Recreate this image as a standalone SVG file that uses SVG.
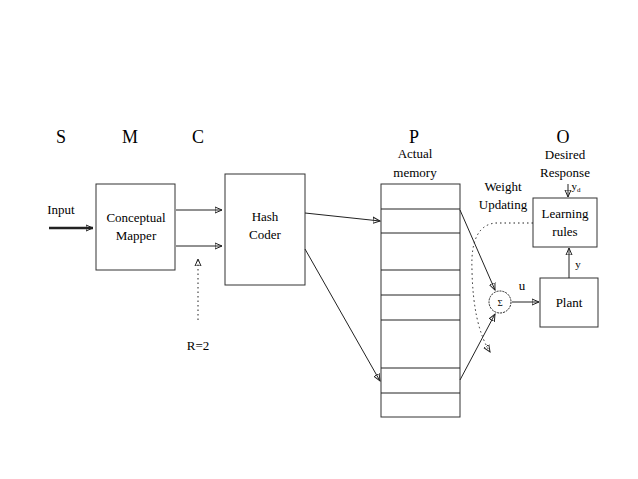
<svg xmlns="http://www.w3.org/2000/svg" width="638" height="479" viewBox="0 0 638 479">
<defs>
<marker id="a" markerWidth="8" markerHeight="8" refX="7" refY="4" orient="auto" markerUnits="userSpaceOnUse"><path d="M0,1 L7,4 L0,7 Z" fill="#000"/></marker>
</defs>
<style>
text{font-family:"Liberation Serif",serif;fill:#000;text-anchor:middle}
.t{font-size:13px}
.h{font-size:18px}
rect{fill:#fff;stroke:#333;stroke-width:1}
line,path{stroke:#222;stroke-width:1;fill:none}
.d{stroke-dasharray:1.5,3}
</style>
<rect width="638" height="479" style="stroke:none"/>
<g id="headers"><text class="h" x="61" y="143">S</text><text class="h" x="130" y="143">M</text><text class="h" x="198" y="143">C</text><text class="h" x="414" y="143">P</text><text class="h" x="563" y="143">O</text></g>
<g id="mapper"><rect x="96" y="184" width="79" height="86"/><text class="t" x="136" y="222">Conceptual</text><text class="t" x="136" y="240">Mapper</text></g>
<g id="hash"><rect x="225" y="174" width="80" height="111"/><text class="t" x="265" y="221">Hash</text><text class="t" x="265" y="239">Coder</text></g>
<g id="memory"><rect x="381" y="184" width="79" height="233"/>
<path d="M381,209H460M381,233H460M381,270H460M381,295H460M381,320H460M381,368H460M381,393H460"/>
<text class="t" x="415" y="158">Actual</text><text class="t" x="415" y="177">memory</text></g>
<g id="sigma"><circle cx="500" cy="302" r="11" fill="#fff" stroke="#222" stroke-dasharray="2,1"/><text x="500" y="306" style="font-size:9px">Σ</text></g>
<g id="plant"><rect x="540" y="278" width="58" height="49"/><text class="t" x="569" y="307">Plant</text></g>
<g id="learning"><rect x="533" y="198" width="64" height="49"/><text class="t" x="565" y="218">Learning</text><text class="t" x="565" y="236">rules</text></g>
<g id="labels">
<text class="t" x="61" y="214">Input</text>
<text class="t" x="198" y="350">R=2</text>
<text class="t" x="503" y="191">Weight</text><text class="t" x="503" y="209">Updating</text>
<text class="t" x="565" y="159">Desired</text><text class="t" x="565" y="177">Response</text>
<text class="t" x="576" y="190" style="font-size:11px">y<tspan dy="2" style="font-size:7px">d</tspan></text>
<text class="t" x="522" y="290">u</text>
<text class="t" x="578" y="268" style="font-size:11px">y</text>
</g>
<g id="connectors">
<line x1="49" y1="228" x2="93" y2="228" stroke-width="3" style="stroke-width:2.5" marker-end="url(#a)"/>
<line x1="176" y1="210" x2="222" y2="210" marker-end="url(#a)"/>
<line x1="176" y1="246" x2="222" y2="246" marker-end="url(#a)"/>
<line x1="198" y1="320" x2="198" y2="259" class="d" marker-end="url(#a)"/>
<line x1="305" y1="213" x2="380" y2="221" marker-end="url(#a)"/>
<line x1="305" y1="249" x2="380" y2="381" marker-end="url(#a)"/>
<line x1="460" y1="210" x2="495" y2="290" marker-end="url(#a)"/>
<line x1="460" y1="380" x2="495" y2="314" marker-end="url(#a)"/>
<line x1="512" y1="302" x2="539" y2="302" marker-end="url(#a)"/>
<line x1="569" y1="278" x2="569" y2="248" marker-end="url(#a)"/>
<line x1="568" y1="184" x2="568" y2="197" marker-end="url(#a)"/>
<path class="d" d="M533,223 L495,223 Q470,226 472,270 Q473,325 490,352" marker-end="url(#a)"/>
</g>
</svg>
